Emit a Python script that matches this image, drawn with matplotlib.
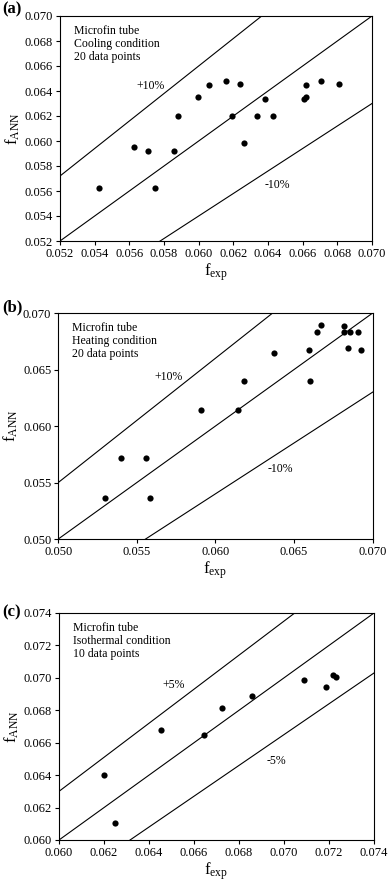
import matplotlib
matplotlib.use("Agg")
import matplotlib.pyplot as plt
import numpy as np

plt.rcParams['font.family'] = ['Liberation Serif', 'DejaVu Serif']
plt.rcParams['mathtext.fontset'] = 'custom'
plt.rcParams['mathtext.rm'] = 'Liberation Serif'
plt.rcParams['mathtext.it'] = 'Liberation Serif:italic'

# ---- Panel (a): cooling ----
a_exp = [0.05426, 0.05629, 0.05708, 0.05747, 0.05857, 0.05878, 0.05998, 0.06058,
         0.0616, 0.0624, 0.0619, 0.06261, 0.06338, 0.0638, 0.06428, 0.06607,
         0.06618, 0.06618, 0.06707, 0.06807]
a_ann = [0.05626, 0.05956, 0.05924, 0.05626, 0.05924, 0.0620, 0.06353, 0.06449,
         0.06479, 0.06455, 0.0620, 0.05983, 0.0620, 0.06339, 0.0620, 0.06339,
         0.06353, 0.06449, 0.06479, 0.06455]
a_ticks = [0.052, 0.054, 0.056, 0.058, 0.060, 0.062, 0.064, 0.066, 0.068, 0.070]

# ---- Panel (b): heating ----
b_exp = [0.05294, 0.05396, 0.05555, 0.05585, 0.05909, 0.06143, 0.06183, 0.06372,
         0.06594, 0.06604, 0.06645, 0.06674, 0.06815, 0.06815, 0.06857, 0.06845,
         0.06906, 0.06928]
b_ann = [0.05363, 0.05721, 0.05721, 0.05363, 0.0614, 0.0614, 0.06394, 0.06645,
         0.06675, 0.06394, 0.06832, 0.06897, 0.06885, 0.06832, 0.06832, 0.0669,
         0.06832, 0.06672]
b_ticks = [0.050, 0.055, 0.060, 0.065, 0.070]

# ---- Panel (c): isothermal ----
c_exp = [0.06198, 0.06251, 0.06455, 0.06646, 0.06723, 0.06858, 0.07089, 0.07187,
         0.07218, 0.07231]
c_ann = [0.06399, 0.06107, 0.06677, 0.06649, 0.06815, 0.06890, 0.06988, 0.06945,
         0.07017, 0.07007]
c_ticks = [0.060, 0.062, 0.064, 0.066, 0.068, 0.070, 0.072, 0.074]

panels = [
    dict(label='(a)', x=a_exp, y=a_ann, ticks=a_ticks, fmt='{:.3f}', band=0.10,
         text='Microfin tube\nCooling condition\n20 data points',
         plus=('+10%', 0.0572, 0.0644), minus=('-10%', 0.06454, 0.05648),
         rect=[60/388, 1-241/883, 312/388, 225/883], lab_y=1-9/883),
    dict(label='(b)', x=b_exp, y=b_ann, ticks=b_ticks, fmt='{:.3f}', band=0.10,
         text='Microfin tube\nHeating condition\n20 data points',
         plus=('+10%', 0.05704, 0.06436), minus=('-10%', 0.0641, 0.05617),
         rect=[58.3/388, 1-539/883, 314.4/388, 226/883], lab_y=1-307/883),
    dict(label='(c)', x=c_exp, y=c_ann, ticks=c_ticks, fmt='{:.3f}', band=0.05,
         text='Microfin tube\nIsothermal condition\n10 data points',
         plus=('+5%', 0.06511, 0.06956), minus=('-5%', 0.06964, 0.06486),
         rect=[59/388, 1-840/883, 315/388, 227/883], lab_y=1-612/883),
]

fig = plt.figure(figsize=(3.88, 8.83), dpi=100)

for p in panels:
    ax = fig.add_axes(p['rect'])
    lo, hi = p['ticks'][0], p['ticks'][-1]
    xs = np.array([lo, hi])
    for f in (1.0, 1.0 + p['band'], 1.0 - p['band']):
        ax.plot(xs, f * xs, color='black', lw=0.8, zorder=1)
    ax.scatter(p['x'], p['y'], s=20, color='black', zorder=3, linewidths=0)
    ax.set_xlim(lo, hi)
    ax.set_ylim(lo, hi)
    ax.set_xticks(p['ticks'])
    ax.set_yticks(p['ticks'])
    ax.set_xticklabels([p['fmt'].format(t) for t in p['ticks']])
    ax.set_yticklabels([p['fmt'].format(t) for t in p['ticks']])
    ax.tick_params(direction='out', length=3, width=0.8, labelsize=9, pad=2)
    for s in ax.spines.values():
        s.set_linewidth(0.8)
    ax.set_xlabel(r'f$_{\mathrm{exp}}$', fontsize=12, labelpad=1)
    ax.set_ylabel(r'f$_{\mathrm{ANN}}$', fontsize=12, labelpad=2)
    ax.text(0.045, 0.96, p['text'], transform=ax.transAxes, fontsize=8.5,
            va='top', ha='left', linespacing=1.1)
    t, x, y = p['plus']
    ax.text(x, y, t, fontsize=8.5, ha='center', va='center')
    t, x, y = p['minus']
    ax.text(x, y, t, fontsize=8.5, ha='center', va='center')
    fig.text(2/388, p['lab_y'], p['label'], fontsize=12, fontweight='bold',
             ha='left', va='center')

fig.savefig('out.png', dpi=100)
